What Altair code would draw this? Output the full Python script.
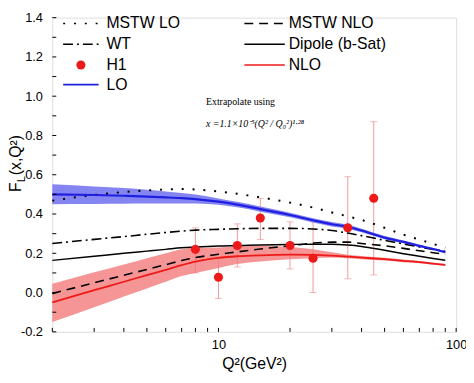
import altair as alt
import pandas as pd

FONT = "Liberation Sans"
SERIF = "Liberation Serif"

# ---------------- data ----------------
Q = [2, 3, 4, 5, 6, 7, 8, 10, 12, 15, 20, 25, 30, 35, 40, 50, 60, 70, 80, 90]
lo_fl = [0.500, 0.497, 0.493, 0.489, 0.485, 0.481, 0.476, 0.463, 0.448, 0.425,
         0.395, 0.368, 0.348, 0.335, 0.316, 0.280, 0.258, 0.238, 0.222, 0.206]
lo_band_low = [0.450, 0.451, 0.452, 0.453, 0.454, 0.454, 0.453, 0.447, 0.434, 0.412,
               0.383, 0.357, 0.337, 0.325, 0.307, 0.272, 0.251, 0.232, 0.217, 0.201]
lo_band_high = [0.551, 0.540, 0.532, 0.524, 0.515, 0.507, 0.499, 0.479, 0.462, 0.438,
                0.407, 0.379, 0.359, 0.345, 0.325, 0.288, 0.265, 0.244, 0.227, 0.211]
mstw_lo = [0.468, 0.497, 0.512, 0.520, 0.525, 0.527, 0.525, 0.515, 0.503, 0.485,
           0.458, 0.433, 0.408, 0.388, 0.370, 0.330, 0.295, 0.270, 0.248, 0.228]
wt = [0.250, 0.271, 0.285, 0.297, 0.306, 0.313, 0.318, 0.322, 0.325, 0.327,
      0.327, 0.324, 0.316, 0.303, 0.290, 0.266, 0.248, 0.232, 0.220, 0.210]
mstw_nlo = [-0.005, 0.050, 0.088, 0.118, 0.142, 0.163, 0.178, 0.195, 0.207, 0.222,
            0.238, 0.252, 0.257, 0.257, 0.250, 0.238, 0.225, 0.213, 0.203, 0.195]
dipole = [0.164, 0.185, 0.200, 0.211, 0.220, 0.228, 0.232, 0.237, 0.239, 0.242,
          0.245, 0.246, 0.246, 0.242, 0.235, 0.215, 0.198, 0.185, 0.174, 0.165]
nlo_fl = [-0.050, 0.012, 0.055, 0.089, 0.116, 0.140, 0.158, 0.177, 0.185, 0.190,
          0.193, 0.192, 0.188, 0.183, 0.178, 0.170, 0.162, 0.155, 0.147, 0.141]
nlo_band_low = [-0.150, -0.075, -0.020, 0.021, 0.055, 0.084, 0.100, 0.125, 0.145, 0.158,
                0.170, 0.175, 0.178, 0.175, 0.170, 0.163, 0.155, 0.149, 0.142, 0.137]
nlo_band_high = [0.045, 0.103, 0.143, 0.175, 0.200, 0.220, 0.228, 0.230, 0.235, 0.238,
                 0.232, 0.220, 0.205, 0.193, 0.186, 0.177, 0.169, 0.161, 0.152, 0.145]

h1_q = [8, 10, 12, 15, 20, 25, 35, 45]
h1_fl = [0.220, 0.078, 0.240, 0.380, 0.240, 0.175, 0.330, 0.480]
h1_low = [0.100, -0.030, 0.130, 0.270, 0.120, 0.000, 0.070, 0.090]
h1_high = [0.330, 0.180, 0.350, 0.480, 0.360, 0.360, 0.590, 0.870]

x_labels = [10, 100]
x_ticks = [2, 3, 4, 5, 6, 7, 8, 9, 10, 20, 30, 40, 50, 60, 70, 80, 90, 100]
y_labels = [-0.2, 0.0, 0.2, 0.4, 0.6, 0.8, 1.0, 1.2, 1.4]
y_ticks = [-0.2, -0.1, 0.0, 0.1, 0.2, 0.3, 0.4, 0.5, 0.6, 0.7, 0.8, 0.9, 1.0,
           1.1, 1.2, 1.3, 1.4]

legend_left = ["MSTW LO", "WT", "H1", "LO"]
legend_right = ["MSTW NLO", "Dipole (b-Sat)", "NLO"]

note_line1 = "Extrapolate using"
note_line2 = "x =1.1×10⁻⁵(Q² / Q₀²)¹·²⁸"

# ---------------- styles ----------------
RED = "#ee1a1a"
RED_BAND = "#f27a7a"
ERR = "#f09a9a"
BLUE = "#1f1fe0"
BLUE_BAND = "#7070f0"
W, H = 410, 319
TOP = 7

curves = pd.DataFrame({
    "Q": Q, "LO": lo_fl, "LOlow": lo_band_low, "LOhigh": lo_band_high,
    "MSTWLO": mstw_lo, "WT": wt, "MSTWNLO": mstw_nlo, "Dipole": dipole,
    "NLO": nlo_fl, "NLOlow": nlo_band_low, "NLOhigh": nlo_band_high,
})
h1 = pd.DataFrame({"Q": h1_q, "F": h1_fl, "lo": h1_low, "hi": h1_high})

xs = alt.Scale(type="log", domain=[2, 100], nice=False)
ys = alt.Scale(domain=[-0.2, 1.4], nice=False, zero=False)

x_axis = alt.Axis(values=x_labels, format="d", ticks=False, domain=False, grid=False,
                  labelFontSize=13, labelFont=FONT, labelColor="black", labelPadding=7,
                  labelFlush=False, title="Q²(GeV²)", titleFontSize=16, titleFont=FONT,
                  titleFontWeight="normal", titleColor="black", titlePadding=4)
y_axis = alt.Axis(values=y_labels,
                  labelExpr="datum.value < 0 ? '-' + format(-datum.value, '.1f') : format(datum.value, '.1f')",
                  ticks=False, domain=False, grid=False, labelFontSize=13, labelFont=FONT,
                  labelColor="black", labelPadding=10, title=None)


def X(field="Q"):
    return alt.X(f"{field}:Q", scale=xs, axis=x_axis, title="Q²(GeV²)")


def Y(field):
    return alt.Y(f"{field}:Q", scale=ys, axis=y_axis, title=None)


layers = []

# error bars
layers.append(alt.Chart(h1).mark_rule(color=ERR, strokeWidth=1).encode(
    x=X("Q"), y=Y("lo"), y2="hi:Q"))
for f in ["lo", "hi"]:
    layers.append(alt.Chart(h1).mark_tick(orient="horizontal", size=7, thickness=1, color=ERR).encode(
        x=X(), y=Y(f)))

# bands
layers.append(alt.Chart(curves).mark_area(color=BLUE_BAND, opacity=0.85, interpolate="monotone").encode(
    x=X(), y=Y("LOlow"), y2="LOhigh:Q"))
layers.append(alt.Chart(curves).mark_area(color=RED_BAND, opacity=0.8, interpolate="monotone").encode(
    x=X(), y=Y("NLOlow"), y2="NLOhigh:Q"))

# lines
line_styles = [
    ("MSTWLO", "black", [2, 9], 2),
    ("WT", "black", [10, 4, 2, 4], 1.6),
    ("MSTWNLO", "black", [9, 6], 1.6),
    ("Dipole", "black", None, 1.5),
    ("NLO", RED, None, 1.8),
    ("LO", BLUE, None, 2.2),
]
for field, col, dash, w in line_styles:
    kw = dict(color=col, strokeWidth=w, interpolate="monotone")
    if dash:
        kw["strokeDash"] = dash
    layers.append(alt.Chart(curves).mark_line(**kw).encode(x=X(), y=Y(field)))

# data points
layers.append(alt.Chart(h1).mark_circle(size=85, color=RED, opacity=1).encode(x=X(), y=Y("F")))

# inward ticks
layers.append(alt.Chart(pd.DataFrame({"t": x_ticks})).mark_rule(color="black", strokeWidth=1).encode(
    x=X("t"), y=alt.value(H), y2=alt.value(H - 4)))
layers.append(alt.Chart(pd.DataFrame({"t": y_ticks})).mark_rule(color="black", strokeWidth=1).encode(
    y=Y("t"), x=alt.value(0), x2=alt.value(4)))

# legend
left_styles = [("line", "black", [2, 9]), ("line", "black", [10, 4, 2, 4]), ("dot", RED, None), ("line", BLUE, None)]
right_styles = [("line", "black", [9, 6]), ("line", "black", None), ("line", RED, None)]
rows_y = [6, 27, 48, 68]
one = pd.DataFrame({"a": [0]})


def legend_col(labels, styles, x0, x1, xt):
    out = []
    for lab, (kind, col, dash), yy in zip(labels, styles, rows_y):
        if kind == "dot":
            out.append(alt.Chart(one).mark_circle(size=85, color=col, opacity=1).encode(
                x=alt.value((x0 + x1) / 2), y=alt.value(yy)))
        else:
            kw = dict(color=col, strokeWidth=2 if col == BLUE else 1.6)
            if dash:
                kw["strokeDash"] = dash
            out.append(alt.Chart(one).mark_rule(**kw).encode(
                x=alt.value(x0), x2=alt.value(x1), y=alt.value(yy)))
        out.append(alt.Chart(one).mark_text(
            align="left", baseline="middle", fontSize=16, font=FONT, color="black").encode(
            x=alt.value(xt), y=alt.value(yy), text=alt.value(lab)))
    return out


layers += legend_col(legend_left, left_styles, 11, 47, 55)
layers += legend_col(legend_right, right_styles, 195, 236, 240)

# annotation
layers.append(alt.Chart(one).mark_text(align="left", baseline="middle", fontSize=10, font=SERIF,
                                       color="black").encode(
    x=alt.value(156), y=alt.value(86), text=alt.value(note_line1)))
layers.append(alt.Chart(one).mark_text(align="left", baseline="middle", fontSize=10, font=SERIF,
                                       fontStyle="italic", color="black").encode(
    x=alt.value(156), y=alt.value(108), text=alt.value(note_line2)))

# y title F_L(x,Q²)
layers.append(alt.Chart(one).mark_text(angle=270, align="left", baseline="alphabetic", fontSize=16,
                                       font=FONT, color="black").encode(
    x=alt.value(-32), y=alt.value(177), text=alt.value("F")))
layers.append(alt.Chart(one).mark_text(angle=270, align="left", baseline="alphabetic", fontSize=11,
                                       font=FONT, color="black").encode(
    x=alt.value(-28), y=alt.value(167), text=alt.value("L")))
layers.append(alt.Chart(one).mark_text(angle=270, align="left", baseline="alphabetic", fontSize=16,
                                       font=FONT, color="black").encode(
    x=alt.value(-32), y=alt.value(160), text=alt.value("(x,Q²)")))

chart = alt.layer(*layers).properties(
    width=W, height=H,
    padding={"left": 45, "top": TOP, "right": 10, "bottom": 40},
    autosize=alt.AutoSizeParams(type="none"),
).configure_view(stroke="black", strokeWidth=1.5).configure(background="white")

chart.save("out.html", embed_options={"renderer": "svg", "actions": False})
